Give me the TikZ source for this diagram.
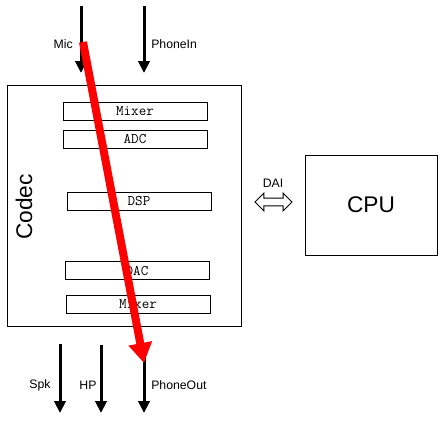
\documentclass[tikz,border=0pt]{standalone}
\usepackage{fontspec}
\setmainfont{Liberation Sans}
\usetikzlibrary{arrows.meta,shapes.arrows}

\begin{document}
\begin{tikzpicture}[x=0.75pt,y=-0.75pt,
    blk/.style={draw,line width=0.75pt,minimum width=108pt,minimum height=13.5pt,inner sep=0pt,font=\ttfamily\fontsize{11}{11}\selectfont},
    lbl/.style={font=\fontsize{9.2}{10}\selectfont,inner sep=0pt},
    sig/.style={line width=2.25pt,-{Triangle[length=9pt,width=8.5pt]}}]

  \useasboundingbox (0,0) rectangle (443,422);

  % codec and its blocks
  \draw[line width=0.75pt] (7,85) rectangle (241,326);
  \node[rotate=90,font=\fontsize{17}{18}\selectfont] (codec) at (24,207) {Codec};
  \node[blk] (mixin)  at (135,111.5) {Mixer};
  \node[blk] (adc)    at (135,139.5) {ADC};
  \node[blk] (dsp)    at (139,201)   {DSP};
  \node[blk] (dac)    at (137,270.5) {DAC};
  \node[blk] (mixout) at (138,304.5) {Mixer};

  % cpu side
  \node[draw,line width=0.75pt,minimum width=99pt,minimum height=75pt,font=\fontsize{17}{18}\selectfont] (cpu) at (371,205) {CPU};
  \node[double arrow,draw,line width=0.6pt,inner sep=2.6pt,minimum height=27.75pt,
        double arrow head extend=3.75pt,double arrow tip angle=90] (dai) at (273.5,202) {};
  \node[lbl] (dailbl) at (273,183) {DAI};

  % inputs
  \coordinate (mic0) at (81,6);    \coordinate (mic1) at (81,73);
  \coordinate (pin0) at (144,6);   \coordinate (pin1) at (144,73);
  \draw[sig] (mic0) -- (mic1);
  \draw[sig] (pin0) -- (pin1);
  \node[lbl,anchor=east] (miclbl) at (73,44) {Mic};
  \node[lbl,anchor=west] (pinlbl) at (151,44) {PhoneIn};

  % outputs
  \coordinate (spk0) at (60,344);  \coordinate (spk1) at (60,413);
  \coordinate (hp0)  at (101,345); \coordinate (hp1)  at (101,413);
  \coordinate (pout0) at (144,345); \coordinate (pout1) at (144,413);
  \draw[sig] (spk0) -- (spk1);
  \draw[sig] (hp0) -- (hp1);
  \draw[sig] (pout0) -- (pout1);
  \node[lbl] (spklbl) at (40,385) {Spk};
  \node[lbl] (hplbl)  at (88,385) {HP};
  \node[lbl,anchor=west] (poutlbl) at (151,385) {PhoneOut};

  % signal path
  \coordinate (path0) at (83,42);
  \coordinate (path1) at (144,363);
  \draw[red,line width=6pt,-{Triangle[length=15pt,width=17pt]}] (path0) -- (path1);

\end{tikzpicture}
\end{document}
